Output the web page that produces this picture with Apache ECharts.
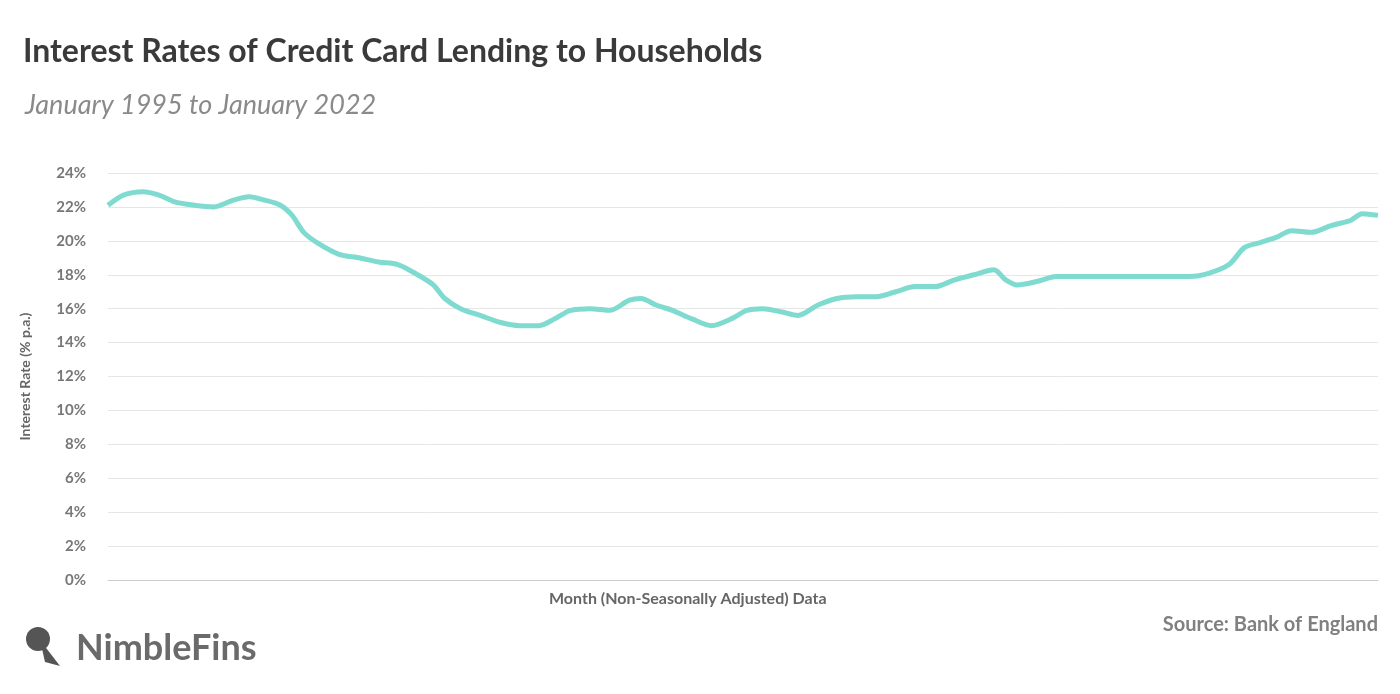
<!DOCTYPE html>
<html>
<head>
<meta charset="utf-8">
<script src="https://cdn.jsdelivr.net/npm/echarts@6/dist/echarts.min.js"></script>
<style>
html,body{margin:0;padding:0;background:#fff;}
#chart{width:1400px;height:694px;}
</style>
</head>
<body>
<div id="chart"></div>
<script>
// Data (approximate)
const dates = [
  "1995-01","1995-05","1995-10","1996-02","1996-06","1996-11","1997-04","1997-09","1998-01","1998-05",
  "1998-09","1998-12","1999-03","1999-07","1999-12","2000-05","2000-10","2001-03","2001-08","2001-12",
  "2002-03","2002-07","2002-12","2003-05","2003-10","2004-03","2004-07","2004-11","2005-04","2005-09",
  "2006-02","2006-05","2006-09","2007-01","2007-06","2007-11","2008-04","2008-08","2008-12","2009-05",
  "2009-09","2010-02","2010-07","2010-12","2011-05","2011-10","2012-03","2012-08","2013-01","2013-06",
  "2013-11","2014-02","2014-05","2014-10","2015-03","2015-08","2016-01","2016-10","2017-06","2018-01",
  "2018-06","2018-11","2019-03","2019-07","2019-11","2020-03","2020-08","2021-01","2021-06","2021-09","2022-01"
];
const rates = [
  22.1,22.7,22.9,22.7,22.3,22.1,22.0,22.4,22.6,22.4,
  22.1,21.5,20.5,19.8,19.2,19.0,18.75,18.6,18.0,17.4,
  16.6,16.0,15.6,15.2,15.0,15.0,15.4,15.9,16.0,15.9,
  16.5,16.6,16.2,15.9,15.4,15.0,15.4,15.9,16.0,15.8,
  15.6,16.2,16.6,16.7,16.7,17.0,17.3,17.3,17.7,18.0,
  18.3,17.7,17.4,17.6,17.9,17.9,17.9,17.9,17.9,17.9,
  18.1,18.6,19.6,19.9,20.2,20.6,20.5,20.9,21.2,21.6,21.5
];
const yTicks = [0,2,4,6,8,10,12,14,16,18,20,22,24];

const chart = echarts.init(document.getElementById('chart'), null, {renderer:'canvas'});
chart.setOption({
  backgroundColor:'#ffffff',
  animation:false,
  title:[
    {text:'Interest Rates of Credit Card Lending to Households', left:18, top:31,
     textStyle:{fontFamily:'Lato, "Open Sans", sans-serif', fontSize:32, fontWeight:'bold', color:'#3a3a3a'}},
    {text:'January 1995 to January 2022', left:20, top:87,
     textStyle:{fontFamily:'Lato, "Open Sans", sans-serif', fontSize:27, fontStyle:'italic', fontWeight:'normal', color:'#8a8a8a'}}
  ],
  grid:{left:108, right:22, top:173, bottom:114},
  xAxis:{
    type:'time',
    min:'1995-01', max:'2022-01',
    axisLine:{show:true, lineStyle:{color:'#cccccc'}},
    axisTick:{show:false},
    axisLabel:{show:false},
    splitLine:{show:false}
  },
  yAxis:{
    type:'value',
    min:yTicks[0], max:yTicks[yTicks.length-1], interval:2,
    name:'Interest Rate (% p.a.)',
    nameLocation:'middle', nameGap:76, nameRotate:90,
    nameTextStyle:{fontFamily:'Lato, sans-serif', fontSize:14, fontWeight:'bold', color:'#666'},
    axisLine:{show:false},
    axisTick:{show:false},
    axisLabel:{formatter: v => v + '%', fontFamily:'Lato, sans-serif', fontSize:15, fontWeight:'bold', color:'#777', margin:22},
    splitLine:{lineStyle:{color:'#e6e6e6', width:1}}
  },
  series:[{
    type:'line',
    data: dates.map((d,i)=>[d, rates[i]]),
    smooth:0.3,
    showSymbol:false,
    lineStyle:{color:'#7fdad0', width:5},
    itemStyle:{color:'#7fdad0'}
  }],
  graphic:[
    {type:'text', left:549, top:591,
     style:{text:'Month (Non-Seasonally Adjusted) Data', font:'bold 16px Lato, sans-serif', fill:'#666'}},
    {type:'text', right:22, top:615,
     style:{text:'Source: Bank of England', font:'bold 20px Lato, sans-serif', fill:'#808080', textAlign:'right'}},
    {type:'circle', left:26, top:627, shape:{r:12}, style:{fill:'#555'}},
    {type:'polygon', shape:{points:[[40,640],[60,666],[45,662]]}, style:{fill:'#555'}},
    {type:'text', left:76, top:630,
     style:{text:'NimbleFins', font:'bold 36px Lato, sans-serif', fill:'#6a6a6a'}}
  ]
});
</script>
</body>
</html>
